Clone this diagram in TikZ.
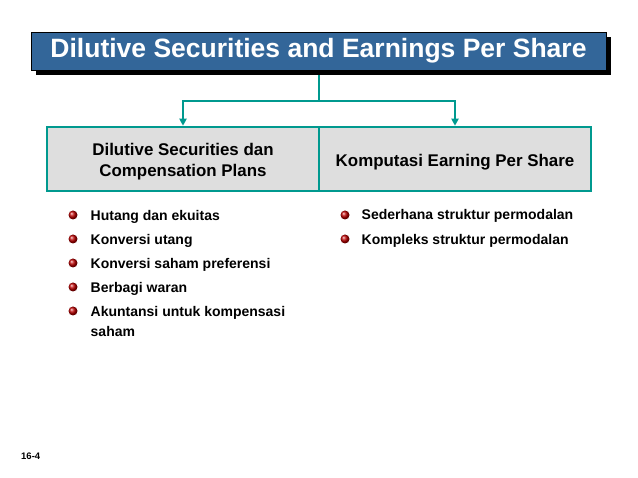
\documentclass[tikz,border=0pt]{standalone}
\usepackage{fontspec}
\setmainfont{Liberation Sans}
\usetikzlibrary{arrows.meta,backgrounds,shadows}
\definecolor{teal1}{RGB}{0,153,143}
\definecolor{titleblue}{RGB}{51,102,153}
\definecolor{boxgray}{RGB}{222,222,222}
\definecolor{bulred}{RGB}{190,0,0}
\tikzset{
  titlebox/.style={fill=titleblue, draw=black, line width=0.6pt, minimum width=575pt, minimum height=38pt,
    inner sep=0pt, text=white, font=\fontsize{26.5}{30}\selectfont\bfseries,
    drop shadow={shadow xshift=5pt, shadow yshift=-5pt, fill=black, opacity=1}},
  catbox/.style={fill=boxgray, draw=teal1, line width=2.5pt, minimum width=272pt, minimum height=64pt,
    inner sep=0pt, align=center, font=\fontsize{16.9}{21}\selectfont\bfseries},
  conn/.style={draw=teal1, line width=2pt},
  arr/.style={conn, -{Triangle[length=7pt,width=7pt]}},
  bul/.style={circle, minimum size=9pt, inner sep=0pt, ball color=bulred, shading=ball},
  itemtext/.style={anchor=base west, inner sep=0pt, align=left, font=\fontsize{14}{19.5}\selectfont\bfseries},
  pagenum/.style={inner sep=0pt, font=\fontsize{9.5}{11}\selectfont\bfseries}
}
\begin{document}
\begin{tikzpicture}[x=1pt,y=-1pt]
\useasboundingbox (0,0) rectangle (638,478);
\node[titlebox] (title) at (318.5,51) {Dilutive Securities and Earnings Per Share};
\node[catbox, text height=39.3pt, text depth=3.6pt] (L) at (183,159) {Dilutive Securities dan\\Compensation Plans};
\node[catbox, text height=18.5pt, text depth=3.6pt] (R) at (455,159) {Komputasi Earning Per Share};
\coordinate (j) at (318.5,101);
\begin{pgfonlayer}{background}
\draw[conn] (title.south) -- (j);
\draw[arr] (j) -| (L.north);
\draw[arr] (j) -| (R.north);
\end{pgfonlayer}
% left bullets
\node[bul] (lb1) at (73,215) {};
\node[bul] (lb2) at (73,239) {};
\node[bul] (lb3) at (73,263) {};
\node[bul] (lb4) at (73,287) {};
\node[bul] (lb5) at (73,311) {};
\node[itemtext] (lt1) at (90.5,220.5) {Hutang dan ekuitas};
\node[itemtext] (lt2) at (90.5,244.5) {Konversi utang};
\node[itemtext] (lt3) at (90.5,268.5) {Konversi saham preferensi};
\node[itemtext] (lt4) at (90.5,292.5) {Berbagi waran};
\node[itemtext] (lt5) at (90.5,336.5) {Akuntansi untuk kompensasi\\saham};
% right bullets
\node[bul] (rb1) at (345,215) {};
\node[bul] (rb2) at (345,239) {};
\node[itemtext] (rt1) at (361.5,220) {Sederhana struktur permodalan};
\node[itemtext] (rt2) at (361.5,244.5) {Kompleks struktur permodalan};
\node[pagenum, anchor=west] (pg) at (21,456) {16-4};
\end{tikzpicture}
\end{document}
